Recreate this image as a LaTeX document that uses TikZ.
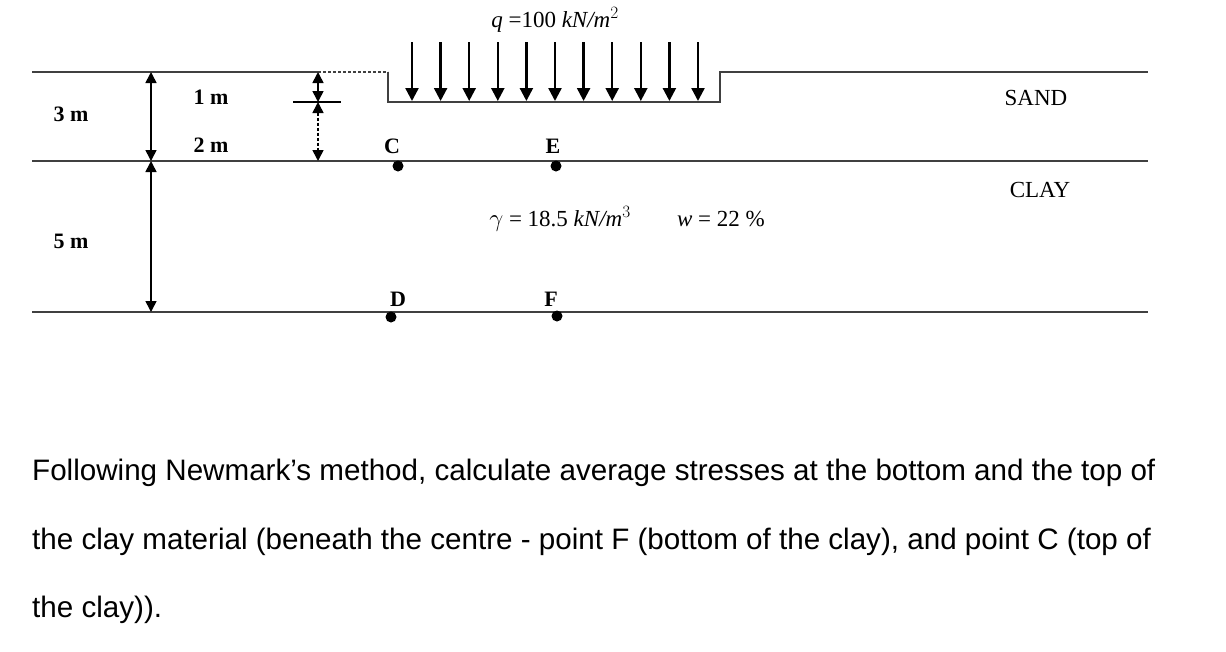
\documentclass[tikz,border=0pt]{standalone}
\usepackage{fontspec}
\newfontfamily\para{Liberation Sans}
\setmainfont{Liberation Serif}
\usetikzlibrary{arrows.meta}
\begin{document}
\begin{tikzpicture}[x=1pt,y=-1pt,
  ln/.style={line width=1.6pt,black!75},
  dim/.style={line width=1.6pt,{Triangle[length=11pt,width=11pt]}-{Triangle[length=11pt,width=11pt]}},
  load/.style={line width=2.4pt,-{Triangle[length=13pt,width=13pt]}},
  lab/.style={font=\fontsize{22}{24}\selectfont\bfseries},
  pt/.style={circle,fill=black,inner sep=0pt,minimum size=11pt},
  ptl/.style={font=\fontsize{22}{24}\selectfont\bfseries}]
\useasboundingbox (0,0) rectangle (1226,651);
\coordinate (g0) at (32,72);
\coordinate (g1) at (318,72);
\coordinate (e1) at (388,72);
\coordinate (e2) at (388,102);
\coordinate (e3) at (720,102);
\coordinate (e4) at (720,72);
\coordinate (g2) at (1148,72);
\draw[ln] (g0) -- (g1);
\draw[ln,densely dashed] (g1) -- (e1);
\draw[ln] (e1) -- (e2) -- (e3) -- (e4) -- (g2);
\coordinate (c0) at (32,161); \coordinate (c1) at (1148,161);
\coordinate (d0) at (32,312); \coordinate (d1) at (1148,312);
\draw[ln] (c0) -- (c1);
\draw[ln] (d0) -- (d1);
% dimensions
\coordinate (a1) at (151,72); \coordinate (a2) at (151,161); \coordinate (a3) at (151,312);
\draw[dim] (a1) -- (a2);
\draw[dim] (a2) -- (a3);
\coordinate (b1) at (318,72); \coordinate (b2) at (318,102); \coordinate (b3) at (318,161);
\coordinate (t1) at (293,102); \coordinate (t2) at (341,102);
\draw[dim] (b1) -- (b2);
\draw[dim,densely dashed] (b2) -- (b3);
\draw[line width=1.6pt] (t1) -- (t2);
% loads
\foreach \i in {0,...,10}{
  \coordinate (la\i) at (412+28.6*\i,42);
  \coordinate (lb\i) at (412+28.6*\i,101);
  \draw[load] (la\i) -- (lb\i);
}
\node (q) at (555,20) {\fontsize{23}{25}\selectfont\textit{q} =100 \textit{kN/m}$^2$};
\node[lab] (l3) at (71,114) {3 m};
\node[lab] (l1) at (211,97) {1 m};
\node[lab] (l2) at (211,145) {2 m};
\node[lab] (l5) at (71,241) {5 m};
\node (sand) at (1036,98) {\fontsize{23}{25}\selectfont SAND};
\node (clay) at (1040,190) {\fontsize{23}{25}\selectfont CLAY};
\node (gam) at (560,219) {\fontsize{23}{25}\selectfont $\gamma$ = 18.5 \textit{kN/m}$^3$};
\node (w) at (721,219) {\fontsize{23}{25}\selectfont \textit{w} = 22 \%};
\node[pt] (C) at (398,166) {}; \node[ptl] (Cl) at (392,146) {C};
\node[pt] (E) at (556,166) {}; \node[ptl] (El) at (553,146) {E};
\node[pt] (D) at (391,317) {}; \node[ptl] (Dl) at (398,299) {D};
\node[pt] (F) at (557,316) {}; \node[ptl] (Fl) at (551,299) {F};
\node[anchor=west,inner sep=0pt] (p1) at (32,473) {\para\fontsize{29.6}{32}\selectfont Following Newmark’s method, calculate average stresses at the bottom and the top of};
\node[anchor=west,inner sep=0pt] (p2) at (32,542) {\para\fontsize{29.6}{32}\selectfont the clay material (beneath the centre - point F (bottom of the clay), and point C (top of};
\node[anchor=west,inner sep=0pt] (p3) at (32,610) {\para\fontsize{29.6}{32}\selectfont the clay)).};
\end{tikzpicture}
\end{document}
